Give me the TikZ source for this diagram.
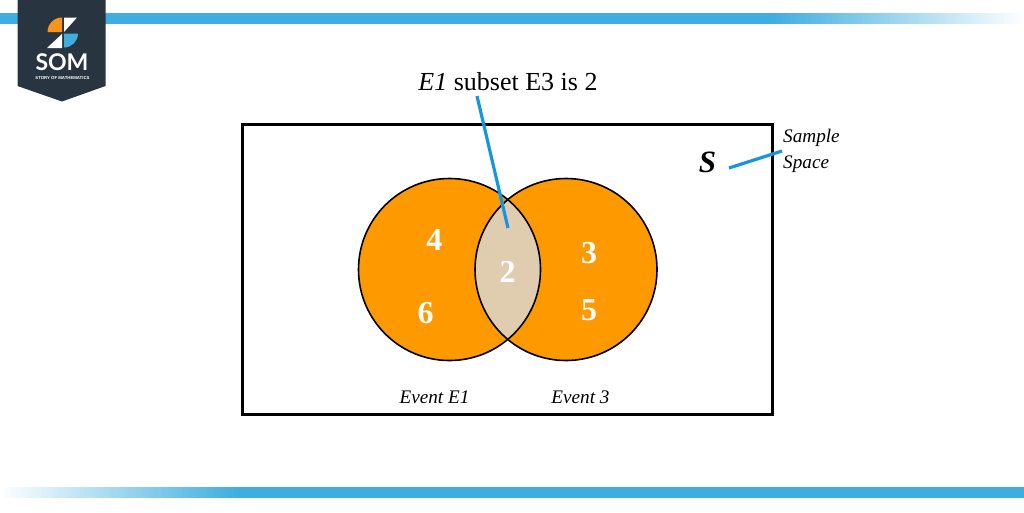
\documentclass[tikz,border=0pt]{standalone}
\usepackage{fontspec}
\setmainfont{Liberation Serif}
\newfontfamily\logofont{Lato}
\newfontfamily\logosmall{Liberation Sans}
\usetikzlibrary{calc}
\definecolor{barblue}{HTML}{3FADDF}
\definecolor{navy}{HTML}{28343F}
\definecolor{vennorange}{HTML}{FF9900}
\definecolor{lens}{HTML}{E0CCAF}
\definecolor{leader}{HTML}{1497DE}
\definecolor{logoorange}{HTML}{F7941D}
\tikzset{
  valuelabel/.style={text=white,font=\bfseries\fontsize{32}{32}\selectfont,inner sep=0pt},
  smalllabel/.style={text=black,font=\itshape\fontsize{19.2}{22}\selectfont,inner sep=0pt,align=left},
  leaderline/.style={draw=leader,line width=3.2pt},
  vennedge/.style={draw=black,line width=1.6pt}
}
\begin{document}
\begin{tikzpicture}[x=1pt,y=-1pt]
\useasboundingbox (0,0) rectangle (1024,512);
\fill[white] (0,0) rectangle (1024,512);
% bars
\fill[barblue] (0,13) rectangle (770,24);
\foreach \i in {0,...,127}{
  \pgfmathsetmacro{\xa}{770+\i*2}
  \pgfmathsetmacro{\pc}{100-\i*100/127}
  \fill[barblue!\pc!white] (\xa,13) rectangle (1024,24);
}
\fill[barblue] (240,487) rectangle (1024,497.5);
\foreach \i in {0,...,119}{
  \pgfmathsetmacro{\xb}{240-\i*2}
  \pgfmathsetmacro{\pd}{100-\i*100/119}
  \fill[barblue!\pd!white] (0,487) rectangle (\xb,497.5);
}
% logo
\fill[navy] (17.5,0) -- (105.5,0) -- (105.5,86) -- (62,101.5) -- (17.5,86) -- cycle;
\fill[logoorange] (62,17.5) -- (62,32) -- (47.5,32) arc[start angle=180,end angle=270,radius=14.5] -- cycle;
\fill[white] (64,17.5) -- (77,17.5) -- (64,32) -- cycle;
\fill[barblue] (64,33.5) -- (78,33.5) arc[start angle=0,end angle=90,radius=14] -- cycle;
\fill[white] (47,48) -- (62,48) -- (62,34) -- cycle;
\node[text=white,inner sep=0pt,anchor=base,font=\logofont\bfseries\fontsize{23}{23}\selectfont] (som) at (62,70.5) {SOM};
\node[text=white,inner sep=0pt,anchor=base,font=\logosmall\bfseries\fontsize{4.3}{5}\selectfont] (story) at (62.5,79.5) {STORY OF MATHEMATICS};
% sample space
\node[draw=black,line width=3pt,minimum width=530pt,minimum height=290pt,inner sep=0pt] (space) at (507.5,269.3) {};
% circles
\fill[vennorange] (449.5,269.5) circle[radius=91];
\fill[vennorange] (566,269.5) circle[radius=91];
\begin{scope}
\clip (449.5,269.5) circle[radius=91];
\fill[lens] (566,269.5) circle[radius=91];
\end{scope}
\node[circle,vennedge,minimum size=182pt,inner sep=0pt] (e1) at (449.5,269.5) {};
\node[circle,vennedge,minimum size=182pt,inner sep=0pt] (e3) at (566,269.5) {};
% numbers
\node[valuelabel] (n4) at (434.3,240) {4};
\node[valuelabel] (n6) at (425.5,313) {6};
\node[valuelabel] (n2) at (507.5,272) {2};
\node[valuelabel] (n3) at (589,253) {3};
\node[valuelabel] (n5) at (589,310) {5};
% labels
\node[inner sep=0pt,anchor=base,font=\fontsize{26}{26}\selectfont] (title) at (508,90) {\textit{E1} subset E3 is 2};
\node[smalllabel,anchor=base] (ev1) at (434.5,403) {Event E1};
\node[smalllabel,anchor=base] (ev3) at (580.5,403) {Event 3};
\node[inner sep=0pt,font=\bfseries\itshape\fontsize{31}{31}\selectfont] (s) at (707.5,162) {S};
\node[smalllabel,anchor=base west] (sample) at (783,142) {Sample};
\node[smalllabel,anchor=base west] (spacetxt) at (783,168.5) {Space};
% leaders
\coordinate (t1) at (477,96);
\coordinate (t2) at (508,228);
\coordinate (s1) at (729,168);
\coordinate (s2) at (782,151);
\draw[leaderline] (t1) -- (t2);
\draw[leaderline] (s1) -- (s2);
\end{tikzpicture}
\end{document}
